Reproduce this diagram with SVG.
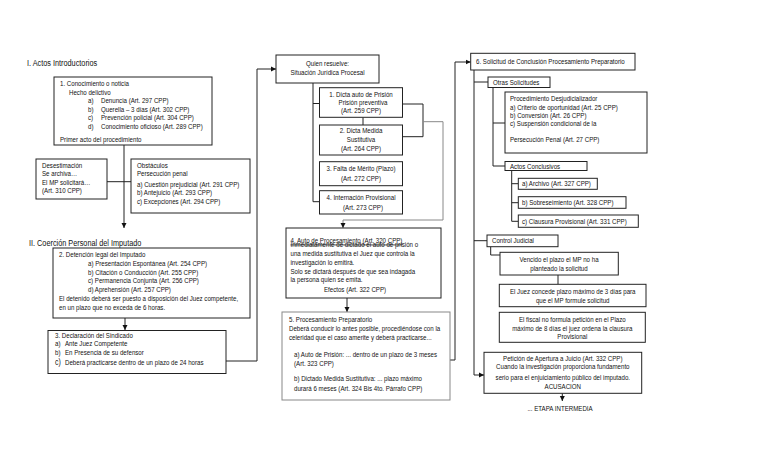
<svg xmlns="http://www.w3.org/2000/svg" width="768" height="467" viewBox="0 0 768 467">
<defs>
<marker id="ah" markerWidth="6" markerHeight="6" refX="5" refY="3" orient="auto" markerUnits="userSpaceOnUse">
<path d="M0,0.5 L5,3 L0,5.5 Z" fill="#111"/>
</marker>
<style>
text{font-family:"Liberation Sans",Arial,sans-serif;font-size:7.4px;fill:#111;transform:scaleX(0.83);transform-box:fill-box;transform-origin:0 50%}
.h{font-size:8.8px}
.c{text-anchor:middle;transform-origin:50% 50%}
.b{fill:#fff;stroke:#222;stroke-width:1}
.gb{fill:#fff;stroke:#888;stroke-width:1}
.ln{fill:none;stroke:#222;stroke-width:1}
.gl{fill:none;stroke:#888;stroke-width:1}
.ar{marker-end:url(#ah)}
</style>
</defs>
<rect width="768" height="467" fill="#fff"/>

<g id="connectors">
<line class="ln ar" x1="124" y1="145" x2="124" y2="228"/>
<line class="ln" x1="107" y1="181.7" x2="131" y2="181.7"/>
<line class="ln ar" x1="125" y1="318" x2="125" y2="330"/>
<polyline class="ln ar" points="226,361 257,361 257,69 276,69"/>
<polyline class="ln" points="313,83 313,201.7 320,201.7"/>
<line class="ln" x1="313" y1="103.5" x2="319.5" y2="103.5"/>
<line class="ln" x1="363" y1="117.3" x2="363" y2="125"/>
<polyline class="ln" points="402.5,104 423,104 423,136.7 402.5,136.7"/>
<polyline class="gl ar" points="423,121.7 443,121.7 443,220 343,220 343,228"/>
<line class="ln ar" x1="347" y1="298" x2="347" y2="312"/>
<polyline class="ln ar" points="450,360 455,360 455,62 470.7,62"/>
<polyline class="ln ar" points="474,70 474,375 484,375"/>
<line class="ln" x1="474" y1="82" x2="488" y2="82"/>
<polyline class="ln" points="493,87.5 493,166 505,166"/>
<line class="ln" x1="493" y1="123" x2="505" y2="123"/>
<polyline class="ln" points="511.7,170.5 511.7,221.3 518.3,221.3"/>
<line class="ln" x1="511.7" y1="183.7" x2="518.3" y2="183.7"/>
<line class="ln" x1="511.7" y1="202.7" x2="518.3" y2="202.7"/>
<line class="ln" x1="474" y1="240.7" x2="487" y2="240.7"/>
<polyline class="ln" points="490.7,246.7 490.7,255 500,255"/>
<line class="ln" x1="558" y1="275" x2="558" y2="284.3"/>
<line class="ln ar" x1="562.3" y1="393.3" x2="562.3" y2="401"/>
</g>

<g id="titles">
<text class="h" x="27" y="66">I. Actos Introductorios</text>
<text class="h" x="29" y="246.5">II.  Coerción Personal del Imputado</text>
</g>

<g id="n1">
<rect class="b" x="54" y="77" width="158" height="68"/>
<text x="60" y="86.5">1. Conocimiento o noticia</text>
<text x="69" y="95">Hecho delictivo</text>
<text x="88" y="103.5">a)</text><text x="101" y="103.5">Denuncia (Art. 297 CPP)</text>
<text x="88" y="112">b)</text><text x="101" y="112">Querella – 3 días (Art. 302 CPP)</text>
<text x="88" y="120.5">c)</text><text x="101" y="120.5">Prevención policial (Art. 304 CPP)</text>
<text x="88" y="129">d)</text><text x="101" y="129">Conocimiento oficioso (Art. 289 CPP)</text>
<text x="60" y="142.5">Primer acto del procedimiento</text>
</g>

<g id="n-desestimacion">
<rect class="b" x="36" y="159" width="71" height="40"/>
<text x="42" y="168">Desestimación</text>
<text x="42" y="176.5">Se archiva…</text>
<text x="42" y="185">El MP solicitará…</text>
<text x="42" y="193.5">(Art. 310 CPP)</text>
</g>

<g id="n-obstaculos">
<rect class="b" x="131" y="159" width="119" height="54"/>
<text x="137" y="168">Obstáculos</text>
<text x="137" y="176.5">Persecución  penal</text>
<text x="137" y="187">a) Cuestión prejudicial (Art. 291 CPP)</text>
<text x="137" y="195.5">b) Antejuicio (Art. 293 CPP)</text>
<text x="137" y="204">c) Excepciones (Art. 294 CPP)</text>
</g>

<g id="n2">
<rect class="b" x="53" y="248" width="197" height="70"/>
<text x="59" y="257.5">2. Detención legal del Imputado</text>
<text x="88" y="266.5">a) Presentación Espontánea (Art. 254 CPP)</text>
<text x="88" y="275">b) Citación o Conducción (Art. 255 CPP)</text>
<text x="88" y="283.5">c) Permanencia Conjunta (Art. 256 CPP)</text>
<text x="88" y="292.5">d) Aprehensión (Art. 257 CPP)</text>
<text x="59" y="301">El detenido deberá ser puesto a disposición del Juez competente,</text>
<text x="59" y="310">en un plazo que no exceda de 6 horas.</text>
</g>

<g id="n3">
<rect class="b" x="48" y="330.5" width="178" height="43"/>
<text x="55" y="338">3. Declaración del Sindicado</text>
<text x="55" y="346.5">a)</text><text x="65" y="346.5">Ante Juez Competente</text>
<text x="55" y="355">b)</text><text x="65" y="355">En Presencia de su defensor</text>
<text x="55" y="365" style="font-size:8.4px">c)</text><text x="65" y="365">Deberá practicarse dentro de un plazo de 24 horas</text>
</g>

<g id="n-quien">
<rect class="b" x="276" y="55" width="103" height="28"/>
<text class="c" x="327.5" y="65.8">Quien resuelve:</text>
<text class="c" x="327.5" y="75.2">Situación Jurídica Procesal</text>
</g>

<g id="n-q1">
<rect class="b" x="319.5" y="87.7" width="83" height="29.6"/>
<text class="c" x="361" y="96.8">1. Dicta auto de Prisión</text>
<text class="c" x="363" y="105.2">Prisión preventiva</text>
<text class="c" x="361" y="113.4">(Art. 259 CPP)</text>
</g>
<g id="n-q2">
<rect class="b" x="319.5" y="125" width="83" height="30"/>
<text class="c" x="361" y="133.2">2. Dicta Medida</text>
<text class="c" x="361" y="142.2">Sustitutiva</text>
<text class="c" x="361" y="150.8">(Art. 264 CPP)</text>
</g>
<g id="n-q3">
<rect class="b" x="319.5" y="161.7" width="83" height="24"/>
<text class="c" x="361" y="171.5">3. Falta de Mérito (Plazo)</text>
<text class="c" x="361" y="180.8">(Art. 272 CPP)</text>
</g>
<g id="n-q4">
<rect class="b" x="319.5" y="190.7" width="83" height="23.3"/>
<text class="c" x="361" y="200.2">4. Internación Provisional</text>
<text class="c" x="363" y="209.8">(Art. 273 CPP)</text>
</g>

<g id="n4">
<rect class="b" x="286" y="228" width="155" height="70"/>
<text x="290.5" y="243.5" text-decoration="underline">4. Auto de Procesamiento (Art. 320 CPP)</text>
<text x="290.5" y="247.5">Inmediatamente de dictado el auto de prisión o</text>
<text x="290.5" y="256.5">una medida sustitutiva el Juez que controla la</text>
<text x="290.5" y="265">investigación lo emitirá.</text>
<text x="290.5" y="274">Solo se dictará después de que sea indagada</text>
<text x="290.5" y="282.5">la persona quien se emita.</text>
<text class="c" x="355" y="292.5">Efectos (Art. 322 CPP)</text>
</g>

<g id="n5">
<rect class="gb" x="282" y="312" width="168" height="88"/>
<text x="289" y="322.5">5. Procesamiento Preparatorio</text>
<text x="289" y="331.5">Deberá conducir lo antes posible, procediéndose con la</text>
<text x="289" y="340">celeridad que el caso amerite  y deberá practicarse...</text>
<text x="294" y="357">a) Auto de Prisión: ... dentro de  un plazo de 3 meses</text>
<text x="294" y="366">(Art. 323 CPP)</text>
<text x="294" y="381.5">b) Dictado Medida Sustitutiva: ... plazo máximo</text>
<text x="294" y="391">durará 6 meses (Art. 324 Bis 4to.  Párrafo CPP)</text>
</g>

<g id="n6">
<rect class="b" x="470.7" y="53.3" width="164.3" height="16.7"/>
<text x="476" y="64">6.  Solicitud de Conclusión Procesamiento Preparatorio</text>
</g>

<g id="n-otras">
<rect class="b" x="488" y="77" width="62" height="10.5"/>
<text x="493" y="85">Otras Solicitudes</text>
</g>

<g id="n-desjud">
<rect class="b" x="505" y="92" width="142" height="61"/>
<text x="510" y="100.8">Procedimiento Desjudicializador</text>
<text x="510" y="109.8">a) Criterio de oportunidad (Art. 25 CPP)</text>
<text x="510" y="118.2">b) Conversión  (Art. 26 CPP)</text>
<text x="510" y="126.5">c) Suspensión condicional de la</text>
<text x="510" y="141.8">Persecución Penal (Art. 27 CPP)</text>
</g>

<g id="n-actos">
<rect class="b" x="505" y="161.5" width="82" height="9"/>
<text x="510" y="168.6">Actos Conclusivos</text>
</g>
<g id="n-archivo">
<rect class="b" x="518.3" y="178.3" width="79" height="11"/>
<text x="522" y="186.3">a) Archivo (Art. 327 CPP)</text>
</g>
<g id="n-sobre">
<rect class="b" x="518.3" y="196.7" width="107.7" height="11.6"/>
<text x="522" y="205.2">b) Sobreseimiento (Art. 328 CPP)</text>
</g>
<g id="n-clausura">
<rect class="b" x="518.3" y="215" width="120" height="12.3"/>
<text x="522" y="223.8">c) Clausura Provisional (Art. 331 CPP)</text>
</g>

<g id="n-control">
<rect class="b" x="487" y="235" width="71" height="11.7"/>
<text x="492" y="243.2">Control Judicial</text>
</g>
<g id="n-vencido">
<rect class="b" x="500" y="252.3" width="118.3" height="22.7"/>
<text class="c" x="559" y="261.8">Vencido el plazo el MP no ha</text>
<text class="c" x="559" y="270.8">planteado la solicitud</text>
</g>
<g id="n-juez">
<rect class="b" x="499.3" y="284.3" width="146.7" height="22.4"/>
<text class="c" x="572.7" y="294.2">El Juez concede plazo máximo de 3 días para</text>
<text class="c" x="572.7" y="302.6">que el MP formule solicitud</text>
</g>
<g id="n-fiscal">
<rect class="b" x="499.3" y="312.3" width="146" height="30"/>
<text class="c" x="572.3" y="321.8">El fiscal no formula petición en el Plazo</text>
<text class="c" x="572.3" y="330.8">máximo de 8 días el juez ordena la clausura</text>
<text class="c" x="572.3" y="339.2">Provisional</text>
</g>
<g id="n-peticion">
<rect class="b" x="484" y="352.3" width="157.7" height="41"/>
<text class="c" x="562.8" y="360.8">Petición de Apertura a Juicio (Art. 332 CPP)</text>
<text class="c" x="562.8" y="369.2">Cuando la investigación proporciona fundamento</text>
<text class="c" x="562.8" y="380.2">serio para el enjuiciamiento público del imputado.</text>
<text class="c" x="562.8" y="389.2">ACUSACION</text>
</g>
<g id="n-etapa">
<text class="c" x="560" y="410.8">... ETAPA INTERMEDIA</text>
</g>
</svg>
